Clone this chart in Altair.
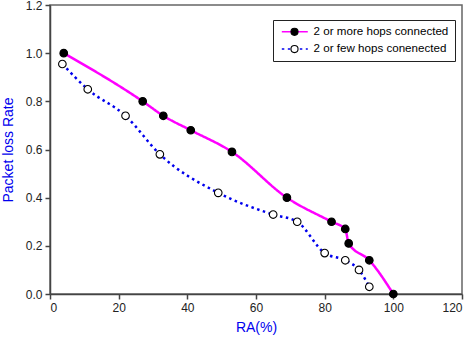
import altair as alt
import pandas as pd

# Series: "2 or more hops connected" (filled dots, magenta solid line)
more_label = "2 or more hops connected"
more_x = [4, 27, 33, 41, 53, 69, 82, 86, 87, 93, 100]
more_y = [1.0, 0.80, 0.74, 0.68, 0.59, 0.40, 0.30, 0.27, 0.21, 0.14, 0.0]

# Series: "2 or few hops conenected" (open dots, blue dotted line)
few_label = "2 or few hops conenected"
few_x = [3.6, 11, 22, 32, 49, 65, 72, 80, 86, 90, 93]
few_y = [0.955, 0.85, 0.74, 0.58, 0.42, 0.33, 0.30, 0.17, 0.14, 0.10, 0.03]

x_ticks = [0, 20, 40, 60, 80, 100, 120]
y_ticks = [0.0, 0.2, 0.4, 0.6, 0.8, 1.0, 1.2]

series_order = [more_label, few_label]
kind_order = ["filled", "open"]

rows = []
for xv, yv in zip(more_x, more_y):
    rows.append({"x": xv, "y": yv, "series": more_label, "kind": "filled"})
for xv, yv in zip(few_x, few_y):
    rows.append({"x": xv, "y": yv, "series": few_label, "kind": "open"})
df = pd.DataFrame(rows)

FONT = "Liberation Sans"
NBSP = "\u00a0"

line_legend = alt.Legend(
    title=None,
    orient="none",
    legendX=223,
    legendY=15,
    padding=6,
    strokeColor="#222222",
    symbolType="M-3,0H3",
    symbolSize=75,
    symbolOffset=10,
    labelFont=FONT,
    labelFontSize=11.6,
    labelColor="black",
    labelOffset=13,
    rowPadding=4.3,
    labelExpr=f"datum.label == '{few_label}' ? '{NBSP}{NBSP}' + datum.label : datum.label",
)

x_enc = alt.X("x:Q", scale=alt.Scale(domain=[0, 120], nice=False),
              axis=alt.Axis(values=x_ticks, format="d", title="RA(%)"))
y_enc = alt.Y("y:Q", scale=alt.Scale(domain=[0, 1.2], nice=False),
              axis=alt.Axis(values=y_ticks, format=".1f", title="Packet loss Rate"))

lines = alt.Chart(df).mark_line(interpolate="monotone", strokeCap="butt", strokeWidth=2.5).encode(
    x=x_enc,
    y=y_enc,
    stroke=alt.Stroke("series:N", scale=alt.Scale(domain=series_order, range=["#ff00ff", "#0000ee"]),
                      legend=line_legend),
    strokeDash=alt.StrokeDash("series:N", scale=alt.Scale(domain=series_order, range=[[1, 0], [2.5, 3.5]]),
                              legend=line_legend),
    order="x:Q",
)

points = alt.Chart(df).mark_point(filled=True, opacity=1, stroke="black", strokeWidth=1.1, size=58).encode(
    x="x:Q",
    y="y:Q",
    fill=alt.Fill("kind:N", scale=alt.Scale(domain=kind_order, range=["black", "white"]),
                  legend=alt.Legend(
                      title=None,
                      orient="none",
                      legendX=232.7,
                      legendY=15,
                      padding=6,
                      symbolType="circle",
                      symbolSize=50,
                      symbolStrokeColor="black",
                      symbolStrokeWidth=1.1,
                      labelFontSize=11.6,
                      labelFont=FONT,
                      labelExpr="''",
                      rowPadding=4.3,
                  )),
)

chart = alt.layer(lines, points).properties(
    width=412,
    height=289,
    autosize=alt.AutoSizeParams(type="none"),
    padding={"left": 50, "top": 5, "right": 12, "bottom": 52},
    background="white",
).configure_view(
    stroke="#666666",
    strokeWidth=1.5,
).configure_axis(
    domainColor="#444444",
    domainWidth=1.5,
    tickColor="#444444",
    tickWidth=1.5,
    tickSize=5,
    grid=False,
    labelFont=FONT,
    labelFontSize=12,
    labelColor="#222222",
    titleFont=FONT,
    titleFontSize=14,
    titleFontWeight="normal",
    titleColor="#0000ee",
).configure_axisX(
    labelPadding=3,
    titlePadding=7,
).configure_axisY(
    labelPadding=3,
    titlePadding=10,
)

chart.save("out.html", embed_options={"renderer": "svg", "actions": False})
